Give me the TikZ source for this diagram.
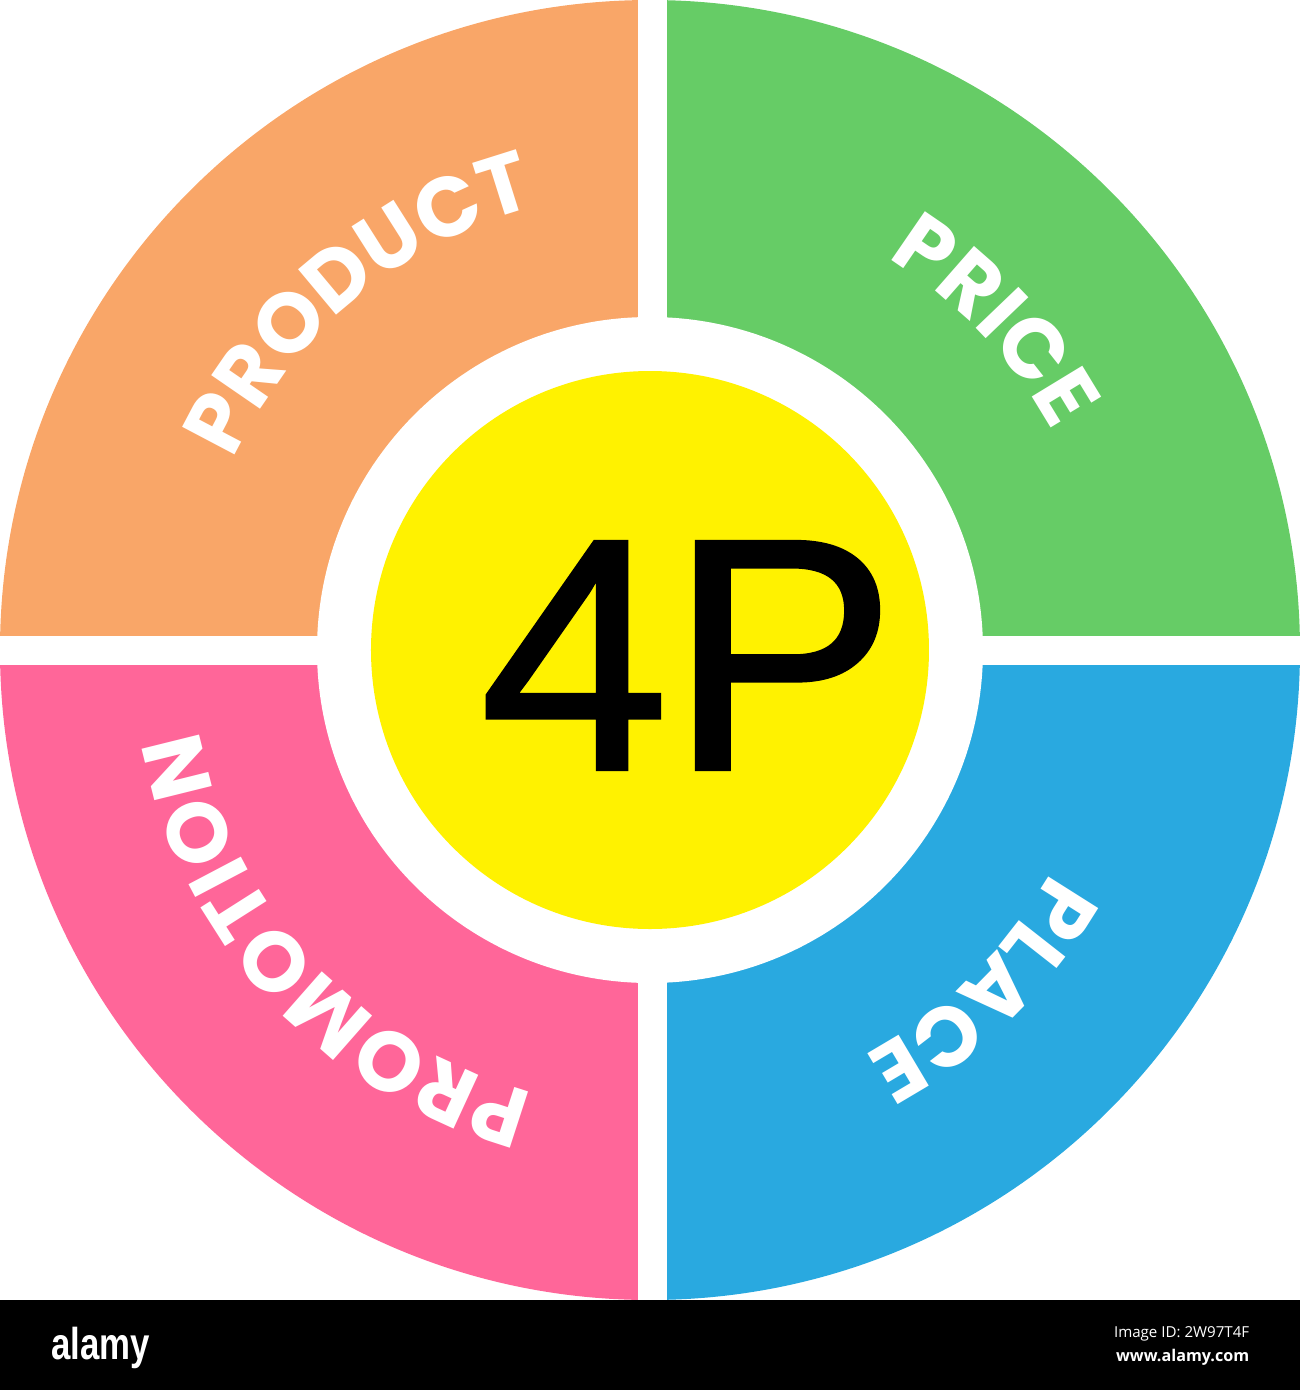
\documentclass[tikz,border=0pt]{standalone}
\usepackage{fontspec}
\usetikzlibrary{decorations.text}
\newfontfamily\lblfont{Poppins}
\newfontfamily\bigfont{Liberation Sans}[FakeBold=1.2]
\newfontfamily\logofont{Liberation Sans}
\newfontfamily\footfont{Open Sans}

\definecolor{productcol}{HTML}{F9A668}
\definecolor{pricecol}{HTML}{66CC66}
\definecolor{placecol}{HTML}{29A9E0}
\definecolor{promocol}{HTML}{FF6699}
\definecolor{centercol}{HTML}{FFF200}

\tikzset{
    arclabel/.style={decorate, decoration={text along path, text align=fit to path, text color=white,
        text={|\lblfont\bfseries\fontsize{24}{24}\selectfont|#1}}},
    foottext/.style={text=white, inner sep=0pt}
}

\begin{document}
\begin{tikzpicture}
        \useasboundingbox (-6.5,-7.4) rectangle (6.5,6.5);
        \coordinate (O) at (0,0);
        
        \foreach \col/\sx/\sy in {productcol/-1/1, pricecol/1/1, placecol/1/-1, promocol/-1/-1}{
            \begin{scope}
                \clip (O) rectangle (7*\sx,7*\sy);
                \fill[\col] (O) circle (6.5);
            \end{scope}
        }
        \fill[white] (-0.12,-6.6) rectangle (0.17,6.6);
        \fill[white] (-6.6,-0.145) rectangle (6.6,0.145);
        \fill[white] (O) circle (3.33);
        \fill[centercol] (O) circle (2.79);
        \node[inner sep=0pt, xscale=1.03, font=\bigfont\fontsize{94}{94}\selectfont] (fourp) at (0.38,-0.055) {4P};
        
        \path[arclabel=PRODUCT] (155.5:4.58) arc[start angle=155.5, end angle=106, radius=4.58];
        \path[arclabel=PRICE] (58.8:4.58) arc[start angle=58.8, end angle=29, radius=4.58];
        \path[arclabel=PLACE] (-29:4.58) arc[start angle=-29, end angle=-61.5, radius=4.58];
        \path[arclabel=PROMOTION] (255.3:4.58) arc[start angle=255.3, end angle=190.5, radius=4.58];
        
        \fill[black] (-6.5,-7.4) rectangle (6.5,-6.5);
        \node[foottext, anchor=base, xscale=0.78, font=\logofont\bfseries\fontsize{12.7}{12.7}\selectfont] (logo) at (-5.495,-7.09) {alamy};
        \node[foottext, anchor=base east, font=\footfont\fontsize{4.3}{5}\selectfont] (imgid) at (6.0,-6.87) {Image ID: 2W97T4F};
        \node[foottext, anchor=base east, font=\footfont\bfseries\fontsize{4.6}{5}\selectfont] (site) at (6.0,-7.11) {www.alamy.com};
    \end{tikzpicture}
\end{document}
